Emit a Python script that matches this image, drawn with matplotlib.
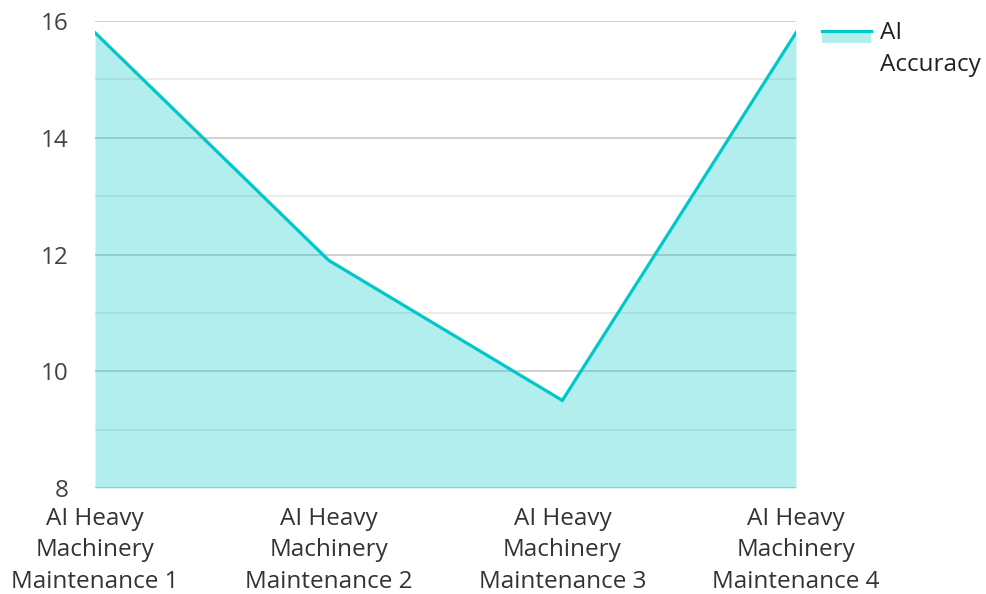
import matplotlib
matplotlib.use("Agg")
import matplotlib.pyplot as plt
from matplotlib.patches import Rectangle
from matplotlib.lines import Line2D
from matplotlib.legend_handler import HandlerBase

categories = ["AI Heavy\nMachinery\nMaintenance 1", "AI Heavy\nMachinery\nMaintenance 2",
              "AI Heavy\nMachinery\nMaintenance 3", "AI Heavy\nMachinery\nMaintenance 4"]
values = [15.8, 11.9, 9.5, 15.8]
series_name = "AI\nAccuracy"
y_ticks = [8, 10, 12, 14, 16]
y_minor = [9, 11, 13, 15]

LINE = "#00C8C8"

plt.rcParams['font.family'] = ['Open Sans', 'DejaVu Sans']
FS = 17.5

fig = plt.figure(figsize=(9.86, 5.94), dpi=100)
ax = fig.add_axes([95/986, 106/594, 701/986, 467/594])

x = list(range(len(categories)))
ax.fill_between(x, 8, values, color=LINE, alpha=0.30, linewidth=0, zorder=2)
ax.plot(x, values, color=LINE, linewidth=2.3, zorder=3, solid_joinstyle='miter')

ax.set_xlim(0, len(categories) - 1)
ax.set_ylim(8, 16)
ax.set_yticks(y_ticks)
ax.set_yticks(y_minor, minor=True)
ax.set_xticks(x)
ax.set_xticklabels(categories, fontsize=FS, color="#333333", linespacing=1.42)
ax.tick_params(axis='y', labelsize=FS, labelcolor="#444444", length=0, pad=19, which='both')
ax.tick_params(axis='x', length=0, pad=13.5)
ax.set_axisbelow(True)
ax.grid(True, axis='y', which='major', color="#c8c8c8", linewidth=1.2)
ax.grid(True, axis='y', which='minor', color="#e8e8e8", linewidth=1.2)
for s in ax.spines.values():
    s.set_visible(False)


class AreaHandler(HandlerBase):
    def create_artists(self, legend, orig_handle, xdescent, ydescent, width, height, fontsize, trans):
        ytop = height - ydescent
        fh = 0.5 * fontsize
        rect = Rectangle((-xdescent, ytop - fh), width, fh,
                         facecolor=LINE, alpha=0.30, edgecolor='none', transform=trans)
        line = Line2D([-xdescent, -xdescent + width], [ytop, ytop], color=LINE,
                      linewidth=2.3, transform=trans)
        return [rect, line]


proxy = Rectangle((0, 0), 1, 1)
leg = fig.legend([proxy], [series_name], handler_map={Rectangle: AreaHandler()},
                 loc='upper left', bbox_to_anchor=(822/986, 1 - 21/594),
                 frameon=False, fontsize=FS, handlelength=2.0, handleheight=2.0,
                 handletextpad=0.4, borderaxespad=0, borderpad=0)
for t in leg.get_texts():
    t.set_color("#222222")
    t.set_linespacing(1.42)

fig.savefig("out.png", dpi=100)
